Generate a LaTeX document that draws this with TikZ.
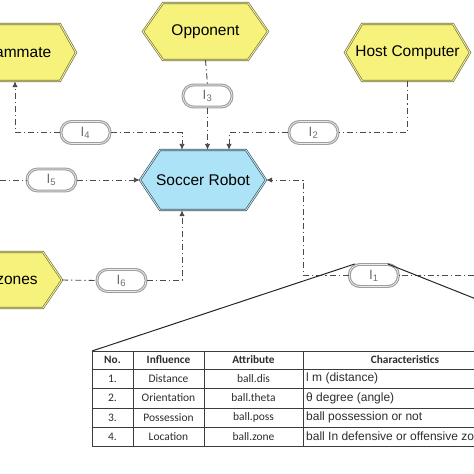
\documentclass[tikz,border=0pt]{standalone}
\usepackage{fontspec}
\setmainfont{Liberation Sans}
\newfontfamily\calfont{Carlito}
\usetikzlibrary{arrows.meta,calc}
\definecolor{hexyellow}{HTML}{F6F27C}
\definecolor{hexolive}{HTML}{767638}
\definecolor{robotblue}{HTML}{ADE3F6}
\definecolor{robotedge}{HTML}{3E5866}
\definecolor{labgray}{HTML}{9E9E9E}
\definecolor{labtext}{HTML}{6E6E6E}
\definecolor{conngray}{HTML}{4A4A4A}
\definecolor{tabline}{HTML}{3C3C3C}
\definecolor{tabtext}{HTML}{2E2E2E}
\tikzset{
  hexyel/.style={fill=hexyellow, draw=hexolive, line width=0.7pt, double=hexyellow!60!white, double distance=0.8pt, line join=miter},
  hexblue/.style={fill=robotblue, draw=robotedge, line width=0.7pt, double=robotblue!60!white, double distance=0.8pt, line join=miter},
  hextext/.style={inner sep=0pt, font=\fontsize{15.5}{18}\selectfont, text=black},
  lab/.style={rectangle, rounded corners=10.5pt, minimum width=49pt, minimum height=22pt, inner sep=0pt, fill=white, draw=labgray, line width=1.1pt, double=white!85!gray, double distance=0.7pt, text=labtext, font=\fontsize{13.5}{15}\selectfont},
  conn/.style={draw=conngray, line width=0.9pt, dash pattern=on 6pt off 3pt on 1.2pt off 3pt},
  arr/.style={-{Latex[length=6pt,width=5.5pt]}},
  callout/.style={draw=black!85, line width=1pt},
  tabrule/.style={draw=tabline, line width=1pt},
  thead/.style={inner sep=0pt, text=tabtext, font=\calfont\bfseries\fontsize{11.3}{13}\selectfont},
  tcell/.style={inner sep=0pt, text=tabtext, font=\calfont\fontsize{11.5}{13}\selectfont},
  tchar/.style={inner sep=0pt, anchor=west, text=tabtext, font=\fontsize{12}{14}\selectfont},
}
% name, cx, cy, width, height, slant, style, text
\newcommand\hexnode[8]{%
  \draw[#7] ({#2-#4/2},#3) -- ({#2-#4/2+#6},{#3-#5/2}) -- ({#2+#4/2-#6},{#3-#5/2})
     -- ({#2+#4/2},#3) -- ({#2+#4/2-#6},{#3+#5/2}) -- ({#2-#4/2+#6},{#3+#5/2}) -- cycle;
  \node[hextext, minimum width=#4pt, minimum height=#5pt] (#1) at (#2,#3) {#8};}
\begin{document}
\begin{tikzpicture}[x=1pt,y=-1pt]
\useasboundingbox[fill=white] (0,0) rectangle (474,474);
% hexagons
\hexnode{teammate}{15}{52.5}{122}{57}{16}{hexyel}{Teammate}
\hexnode{opponent}{205.5}{31.5}{125}{57}{20}{hexyel}{Opponent}
\hexnode{host}{407.5}{52.5}{125}{57}{17}{hexyel}{Host Computer}
\hexnode{robot}{203}{180}{126}{60}{20}{hexblue}{Soccer Robot}
\hexnode{zones}{17}{280}{90}{56}{19}{hexyel}{zones}
% labels
\node[lab] (i3) at (207.5,96) {I\textsubscript{3}};
\node[lab] (i2) at (313.5,132.5) {I\textsubscript{2}};
\node[lab] (i4) at (85.5,132.5) {I\textsubscript{4}};
\node[lab] (i5) at (51.5,180) {I\textsubscript{5}};
\node[lab] (i6) at (121.5,280.5) {I\textsubscript{6}};
\node[lab] (i1) at (373.8,275.5) {I\textsubscript{1}};
\coordinate (left5) at (0,180);
\coordinate (right1) at (474,275.5);
% connectors
\draw[conn] (opponent.south) -- (i3.north);
\draw[conn,arr] (i3.south) -- (i3.south |- robot.north);
\draw[conn] (host.south) |- (i2.east);
\draw[conn,arr] (i2.west) -| ([xshift=26pt]robot.north);
\draw[conn,arr] (i4.west) -| (teammate.south);
\draw[conn,arr] (i4.east) -| ([xshift=-21pt]robot.north);
\draw[conn] (left5) -- (i5.west);
\draw[conn,arr] (i5.east) -- (robot.west);
\draw[conn] (zones.east) -- (i6.west);
\draw[conn,arr] (i6.east) -| ([xshift=-21pt]robot.south);
\draw[conn] (right1) -- (i1.east);
\draw[conn,arr] (i1.west) -| ([xshift=37pt]robot.east) -- (robot.east);
% table
\coordinate (tabTL) at (92,351);
\coordinate (tabTR) at (607,351);
\draw[callout] ([xshift=-19pt]i1.north) -- (tabTL);
\draw[callout] ([xshift=14pt]i1.north) -- (tabTR);
\draw[tabrule] (tabTL) rectangle (507,446);
\foreach \xx in {133,204,303} \draw[tabrule] (\xx,351) -- (\xx,446);
\foreach \yy in {369,388,408,427} \draw[tabrule] (92,\yy) -- (507,\yy);
\node[thead] (h1) at (112.5,360) {No.};
\node[thead] (h2) at (168.5,360) {Influence};
\node[thead] (h3) at (253.5,360) {Attribute};
\node[thead] (h4) at (405,360) {Characteristics};
\foreach \n/\yy/\inf/\att/\chr in {1/378.5/Distance/ball.dis/l m (distance),
    2/398/Orientation/ball.theta/θ degree (angle),
    3/417.5/Possession/ball.poss/ball possession or not,
    4/436.5/Location/ball.zone/ball In defensive or offensive zone}{
  \node[tcell] (n\n) at (112.5,\yy) {\n.};
  \node[tcell] (inf\n) at (168.5,\yy) {\inf};
  \node[tcell] (att\n) at (253.5,\yy) {\att};
  \node[tchar] (chr\n) at (306,\yy) {\chr};
}
\end{tikzpicture}
\end{document}
